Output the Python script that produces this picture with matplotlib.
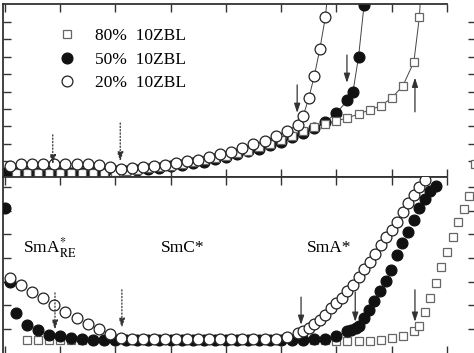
import matplotlib.pyplot as plt
from matplotlib.lines import Line2D

plt.rcParams['font.family'] = 'serif'
plt.rcParams['font.serif'] = ['Liberation Serif', 'DejaVu Serif']
plt.rcParams['mathtext.fontset'] = 'stix'

labels = ['80%  10ZBL', '50%  10ZBL', '20%  10ZBL']

# upper panel (arbitrary temperature units on x)
t80_up = [2, 4, 6, 8, 10, 12, 14, 16, 18, 20, 22, 24, 26, 28, 30, 32, 34, 36, 38, 40,
          42, 44, 46, 48, 50, 52, 54, 56, 58, 60, 62, 64, 66, 68, 70, 72, 74, 75, 76]
v80_up = [0.30, 0.30, 0.30, 0.30, 0.30, 0.30, 0.30, 0.30, 0.32, 0.36, 0.42, 0.50, 0.57,
          0.65, 0.74, 0.83, 0.93, 1.04, 1.17, 1.30, 1.45, 1.60, 1.78, 1.98, 2.20, 2.45,
          2.74, 2.97, 3.14, 3.31, 3.48, 3.71, 3.94, 4.17, 4.63, 5.32, 6.70, 9.29, 15.0]

t50_up = [0, 2, 4, 6, 8, 10, 12, 14, 16, 18, 20, 22, 24, 26, 28, 30, 32, 34, 36, 38, 40,
          42, 44, 46, 48, 50, 52, 54, 56, 58, 60, 62, 63, 64, 65, 66]
v50_up = [0.30, 0.33, 0.33, 0.33, 0.33, 0.33, 0.33, 0.33, 0.33, 0.33, 0.40, 0.45, 0.50,
          0.56, 0.62, 0.70, 0.78, 0.86, 0.97, 1.10, 1.25, 1.40, 1.55, 1.72, 1.90, 2.08,
          2.40, 2.62, 2.92, 3.25, 3.76, 4.50, 5.00, 7.00, 10.0, 14.0]

t20_up = [1, 3, 5, 7, 9, 11, 13, 15, 17, 19, 21, 23, 25, 27, 29, 31, 33, 35, 37, 39, 41,
          43, 45, 47, 49, 51, 53, 54, 55, 56, 57, 58, 59]
v20_up = [0.72, 0.80, 0.84, 0.84, 0.84, 0.84, 0.84, 0.80, 0.75, 0.64, 0.55, 0.60, 0.66,
          0.72, 0.78, 0.88, 0.98, 1.07, 1.22, 1.38, 1.53, 1.74, 1.96, 2.16, 2.45, 2.73,
          3.08, 3.60, 4.63, 5.90, 7.45, 9.29, 12.5]

# lower panel
t80_lo = [4, 6, 8, 10, 12, 14, 16, 18, 20, 22, 24, 26, 28, 30, 32, 34, 36, 38, 40, 42,
          44, 46, 48, 50, 52, 54, 56, 58, 60, 62, 64, 66, 68, 70, 72, 74, 75, 76, 77, 78,
          79, 80, 81, 82, 83, 84, 85]
v80_lo = [0.52, 0.52, 0.52, 0.52, 0.52, 0.52, 0.52, 0.52, 0.52, 0.52, 0.52, 0.52, 0.52,
          0.52, 0.52, 0.52, 0.52, 0.52, 0.52, 0.52, 0.52, 0.52, 0.52, 0.52, 0.52, 0.52,
          0.52, 0.52, 0.50, 0.48, 0.50, 0.50, 0.55, 0.63, 0.72, 0.93, 1.14, 1.73, 2.32,
          2.95, 3.63, 4.26, 4.89, 5.53, 6.08, 6.60, 7.97]

t50_lo = [0, 1, 2, 4, 6, 8, 10, 12, 14, 16, 18, 20, 22, 24, 26, 28, 30, 32, 34, 36, 38,
          40, 42, 44, 46, 48, 50, 52, 54, 56, 58, 60, 62, 62.7, 63.5, 64.1, 65, 65.9, 66.8,
          67.8, 68.9, 69.9, 71, 71.9, 72.9, 74, 74.9, 76, 77, 78]
v50_lo = [6.10, 2.98, 1.67, 1.18, 0.97, 0.76, 0.69, 0.62, 0.58, 0.55, 0.52, 0.52, 0.52,
          0.52, 0.52, 0.52, 0.52, 0.52, 0.52, 0.52, 0.52, 0.52, 0.52, 0.52, 0.52, 0.52,
          0.52, 0.52, 0.55, 0.58, 0.60, 0.69, 0.90, 0.97, 1.04, 1.15, 1.46, 1.81, 2.17,
          2.59, 3.04, 3.50, 4.14, 4.63, 5.09, 5.61, 6.10, 6.50, 6.85, 7.06]

t20_lo = [1, 3, 5, 7, 9, 11, 13, 15, 17, 19, 21, 23, 25, 27, 29, 31, 33, 35, 37, 39, 41,
          43, 45, 47, 49, 51, 53, 54, 55, 56, 57, 58, 59, 60, 61, 62, 63, 64, 65, 66, 67,
          68, 69, 70, 71, 72, 73, 74, 75, 76]
v20_lo = [3.16, 2.87, 2.57, 2.32, 2.03, 1.73, 1.48, 1.22, 1.01, 0.80, 0.63, 0.58, 0.58,
          0.58, 0.58, 0.58, 0.58, 0.58, 0.58, 0.58, 0.58, 0.58, 0.58, 0.58, 0.60, 0.66,
          0.82, 0.92, 1.04, 1.21, 1.39, 1.60, 1.89, 2.10, 2.31, 2.59, 2.87, 3.22, 3.54,
          3.83, 4.16, 4.56, 4.87, 5.19, 5.54, 5.93, 6.32, 6.67, 7.00, 7.30]

# transition arrows: (x, tail, tip, style)
arrows_up = [(8.7, 2.51, 0.80, ':'), (20.9, 3.19, 0.97, ':'), (52.9, 5.38, 3.77, '-'),
             (61.9, 7.10, 5.50, '-'), (74.2, 3.83, 5.80, '-')]
arrows_lo = [(9.1, 2.53, 0.97, ':'), (21.2, 2.66, 1.05, ':'), (53.6, 2.35, 1.18, '-'),
             (63.4, 2.57, 1.31, '-'), (74.2, 2.66, 1.31, '-')]

phases = [(3.3, 4.22, r'SmA$^{*}_{\mathrm{RE}}$'), (28.3, 4.26, 'SmC*'), (54.7, 4.26, 'SmA*')]

open_kw = dict(marker='o', ms=7.8, mfc='white', mec='#222222', mew=0.9, ls='none')
fill_kw = dict(marker='o', ms=7.8, mfc='#111111', mec='#111111', mew=0.9, ls='none')
sq_kw = dict(marker='s', ms=6.3, mfc='white', mec='#666666', mew=0.9, ls='none')

fig = plt.figure(figsize=(4.74, 3.53), dpi=100)
ax1 = fig.add_axes([3 / 474, 176 / 353, 473 / 474, 173 / 353])
ax2 = fig.add_axes([3 / 474, -1 / 353, 473 / 474, 177 / 353])

# upper panel
for t, v in [(t80_up, v80_up), (t50_up, v50_up), (t20_up, v20_up)]:
    ax1.plot(t, v, color='#444444', lw=0.7, zorder=1)
ax1.plot(t50_up, v50_up, zorder=2, **fill_kw)
ax1.plot(t80_up, v80_up, zorder=3, **sq_kw)
ax1.plot(t20_up, v20_up, zorder=4, **open_kw)

# lower panel
ax2.plot(t80_lo, v80_lo, zorder=2, clip_on=False, **sq_kw)
ax2.plot(t50_lo, v50_lo, zorder=3, **fill_kw)
ax2.plot(t20_lo, v20_lo, zorder=4, **open_kw)

for ax, arrows in [(ax1, arrows_up), (ax2, arrows_lo)]:
    for x, tail, tip, ls in arrows:
        ax.annotate('', xy=(x, tip), xytext=(x, tail), zorder=5,
                    arrowprops=dict(arrowstyle='-|>,head_length=0.55,head_width=0.18',
                                    color='#333333', lw=0.9, ls=ls,
                                    shrinkA=0, shrinkB=0))

for x, y, s in phases:
    ax2.text(x, y, s, fontsize=12.5, va='baseline', ha='left')

handles = [Line2D([], [], **sq_kw), Line2D([], [], **fill_kw), Line2D([], [], **open_kw)]
ax1.legend(handles, labels, loc='upper left', bbox_to_anchor=(0.113, 0.861),
           frameon=False, fontsize=12.5, borderpad=0, borderaxespad=0,
           handlelength=1.2, handletextpad=1.0, labelspacing=0.42)

ax1.set_ylim(0.08, 10.04)
ax2.set_ylim(-0.05, 7.42)
for ax in (ax1, ax2):
    ax.set_xlim(-0.3, 85.24)
    ax.set_xticks(range(0, 81, 10))
    ax.set_yticks(range(1, 10 if ax is ax1 else 8))
    ax.tick_params(direction='in', length=6, width=1.0, color='#333333',
                   top=True, right=True, labelleft=False, labelbottom=False)
    for side in ('left', 'top', 'bottom'):
        ax.spines[side].set_color('#333333')
        ax.spines[side].set_linewidth(1.3)
    ax.spines['right'].set_visible(False)
    ax.spines['top'].set_bounds(-0.3, 80)
    ax.spines['bottom'].set_bounds(-0.3, 80)

fig.savefig('out.png', dpi=100, facecolor='white')
